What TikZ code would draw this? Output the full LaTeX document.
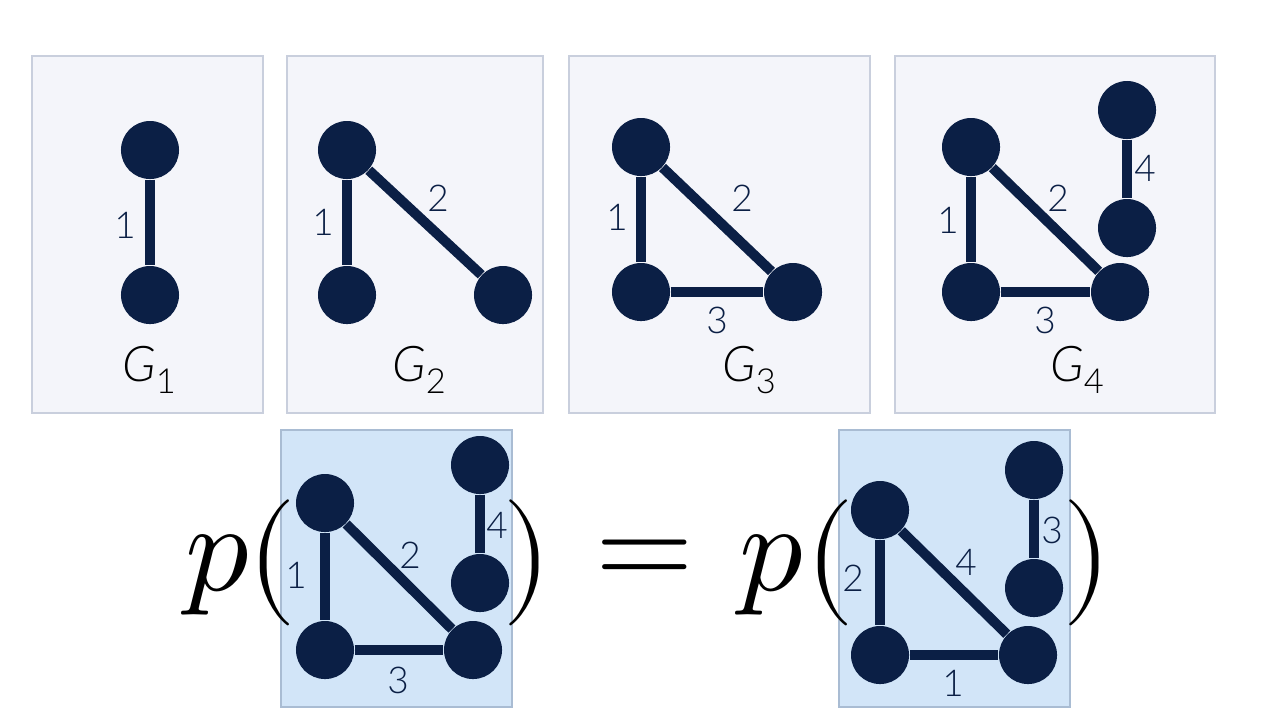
\documentclass[tikz,border=0pt]{standalone}
\usepackage{fontspec}
\setmainfont{Lato}
\newfontfamily\lightfont{Lato Light}
\usepackage{unicode-math}
\setmathfont{Latin Modern Math}
\definecolor{navy}{HTML}{0B1F45}
\definecolor{panelfill}{HTML}{F4F5FA}
\definecolor{panelline}{HTML}{C9CFDD}
\definecolor{hlfill}{HTML}{D2E5F8}
\definecolor{hlline}{HTML}{A9BCD3}
\tikzset{
  vtx/.style={circle,fill=navy,minimum size=0.58cm,inner sep=0pt},
  edg/.style={navy,line width=0.1cm},
  elab/.style={text=navy,font=\lightfont\fontsize{10.5}{11}\selectfont},
  glab/.style={text=black,font=\lightfont\fontsize{14}{15}\selectfont\itshape},
  panel/.style={draw=panelline,fill=panelfill,line width=0.02cm},
  hlpanel/.style={draw=hlline,fill=hlfill,line width=0.02cm},
  big/.style={font=\fontsize{36}{38}\selectfont}
}
\begin{document}
\begin{tikzpicture}[x=0.01cm,y=-0.01cm]
\useasboundingbox[fill=white] (0,0) rectangle (1280,720);
% panels
\draw[panel] (32,56) rectangle (263,413);
\draw[panel] (287,56) rectangle (543,413);
\draw[panel] (569,56) rectangle (870,413);
\draw[panel] (895,56) rectangle (1215,413);
\draw[hlpanel] (281,430) rectangle (512,707);
\draw[hlpanel] (839,430) rectangle (1070,707);
% G1
\node[vtx] (a1) at (150,150) {};
\node[vtx] (a2) at (150,295) {};
\draw[edg] (a1) -- (a2);
\node[elab] at (125,225) {1};
\node[glab] at (150,370) {G\textsubscript{\upshape 1}};
% G2
\node[vtx] (b1) at (347,150) {};
\node[vtx] (b2) at (347,295) {};
\node[vtx] (b3) at (503,295) {};
\draw[edg] (b1) -- (b2);
\draw[edg] (b1) -- (b3);
\node[elab] at (323,222) {1};
\node[elab] at (438,198) {2};
\node[glab] at (420,370) {G\textsubscript{\upshape 2}};
% G3
\node[vtx] (c1) at (641,147) {};
\node[vtx] (c2) at (641,292) {};
\node[vtx] (c3) at (793,292) {};
\draw[edg] (c1) -- (c2);
\draw[edg] (c1) -- (c3);
\draw[edg] (c2) -- (c3);
\node[elab] at (617,217) {1};
\node[elab] at (742,198) {2};
\node[elab] at (717,320) {3};
\node[glab] at (750,370) {G\textsubscript{\upshape 3}};
% G4
\node[vtx] (d1) at (971,147) {};
\node[vtx] (d2) at (971,292) {};
\node[vtx] (d3) at (1120,292) {};
\node[vtx] (d4) at (1127,110) {};
\node[vtx] (d5) at (1127,228) {};
\draw[edg] (d1) -- (d2);
\draw[edg] (d1) -- (d3);
\draw[edg] (d2) -- (d3);
\draw[edg] (d4) -- (d5);
\node[elab] at (948,220) {1};
\node[elab] at (1058,198) {2};
\node[elab] at (1045,320) {3};
\node[elab] at (1145,168) {4};
\node[glab] at (1078,370) {G\textsubscript{\upshape 4}};
% left side of equation
\node[big] (p1) at (218,575) {$p$};
\node[big] (o1) at (272,563) {$($};
\node[big] (c1r) at (527,563) {$)$};
\node[vtx] (e1) at (325,503) {};
\node[vtx] (e2) at (325,650) {};
\node[vtx] (e3) at (473,650) {};
\node[vtx] (e4) at (480,465) {};
\node[vtx] (e5) at (480,583) {};
\draw[edg] (e1) -- (e2);
\draw[edg] (e1) -- (e3);
\draw[edg] (e2) -- (e3);
\draw[edg] (e4) -- (e5);
\node[elab] at (296,575) {1};
\node[elab] at (410,555) {2};
\node[elab] at (398,680) {3};
\node[elab] at (497,525) {4};
\node[big] (eq) at (645,563) {$=$};
% right side of equation
\node[big] (p2) at (772,575) {$p$};
\node[big] (o2) at (830,563) {$($};
\node[big] (c2r) at (1087,563) {$)$};
\node[vtx] (f1) at (880,510) {};
\node[vtx] (f2) at (880,655) {};
\node[vtx] (f3) at (1028,655) {};
\node[vtx] (f4) at (1034,470) {};
\node[vtx] (f5) at (1034,588) {};
\draw[edg] (f1) -- (f2);
\draw[edg] (f1) -- (f3);
\draw[edg] (f2) -- (f3);
\draw[edg] (f4) -- (f5);
\node[elab] at (853,578) {2};
\node[elab] at (966,562) {4};
\node[elab] at (953,683) {1};
\node[elab] at (1052,530) {3};
\end{tikzpicture}
\end{document}
